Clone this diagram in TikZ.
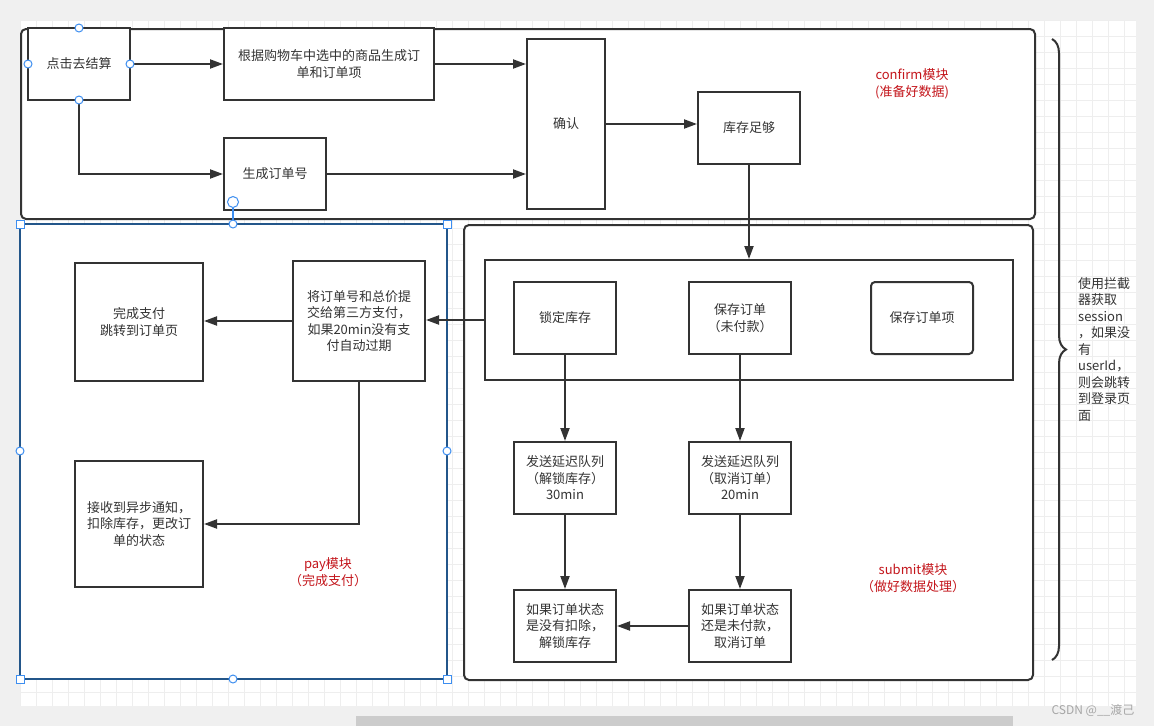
\documentclass[tikz,border=0pt]{standalone}
\usepackage{fontspec}
\setmainfont{Noto Sans CJK SC}
\usetikzlibrary{arrows.meta,decorations.pathreplacing}

\definecolor{linegray}{HTML}{333333}
\definecolor{gridgray}{HTML}{EEEEEE}
\definecolor{bggray}{HTML}{F0F0F0}
\definecolor{labelred}{HTML}{C4161C}
\definecolor{selblue}{HTML}{23568A}
\definecolor{handleblue}{HTML}{3D8EF0}

\tikzset{
    proc/.style = {draw=linegray, line width=2pt, fill=white, text=linegray, align=center,
                   inner sep=0pt, font=\fontsize{13}{16.5}\selectfont},
    rproc/.style = {proc, rounded corners=4pt},
    flow/.style = {draw=linegray, line width=2pt, -{Triangle[length=13pt,width=9pt]}},
    grp/.style = {draw=linegray, fill=white, line width=2pt, rounded corners=5pt},
    modlbl/.style = {text=labelred, align=center, font=\fontsize{13}{16.5}\selectfont},
    handle/.style = {draw=handleblue, fill=white, line width=1pt},
    gridline/.style = {draw=gridgray, line width=1pt},
}

\begin{document}
\begin{tikzpicture}[x=1pt, y=-1pt]
    % Hintergrund und Raster
    \useasboundingbox (0, 0) rectangle (1154, 726);
    \fill[bggray] (0, 0) rectangle (1154, 726);
    \fill[white] (20, 20) rectangle (1136, 706);
    \foreach \gx in {20.5, 36.5, ..., 1136}
        \draw[gridline] (\gx, 20) -- (\gx, 706);
    \foreach \gy in {20.5, 36.5, ..., 706}
        \draw[gridline] (20, \gy) -- (1136, \gy);
    \fill[gray!40] (356, 716) rectangle (1013, 726);

    % Gruppen
    \draw[grp] (21, 29) rectangle (1035, 219);
    \draw[grp] (464, 225) rectangle (1033, 680);
    \draw[selblue, fill=white, line width=1.6pt] (20, 224) rectangle (447, 679);

    % confirm
    \node[proc, minimum width=102, minimum height=72] (settle) at (79, 64) {点击去结算};
    \node[proc, minimum width=210, minimum height=72] (genitems) at (329, 64) {根据购物车中选中的商品生成订\\单和订单项};
    \node[proc, minimum width=102, minimum height=72] (genno) at (275, 174) {生成订单号};
    \node[proc, minimum width=78, minimum height=170] (confirm) at (566, 124) {确认};
    \node[proc, minimum width=102, minimum height=72] (stockok) at (749, 128) {库存足够};
    \node[modlbl] (confirmlbl) at (912, 84) {confirm模块\\(准备好数据)};

    % submit
    \node[proc, minimum width=528, minimum height=120] (saveblock) at (749, 320) {};
    \node[proc, minimum width=102, minimum height=72] (lock) at (565, 318) {锁定库存};
    \node[proc, minimum width=102, minimum height=72] (saveorder) at (740, 318) {保存订单\\（未付款）};
    \node[rproc, minimum width=102, minimum height=72] (saveitem) at (922, 318) {保存订单项};
    \node[proc, minimum width=102, minimum height=72] (delayone) at (565, 478) {发送延迟队列\\（解锁库存）\\30min};
    \node[proc, minimum width=102, minimum height=72] (delaytwo) at (740, 478) {发送延迟队列\\（取消订单）\\20min};
    \node[proc, minimum width=102, minimum height=72] (unlock) at (565, 626) {如果订单状态\\是没有扣除，\\解锁库存};
    \node[proc, minimum width=102, minimum height=72] (cancel) at (740, 626) {如果订单状态\\还是未付款，\\取消订单};
    \node[modlbl] (submitlbl) at (913, 578) {submit模块\\（做好数据处理）};

    % pay
    \node[proc, minimum width=128, minimum height=118] (done) at (139, 322) {完成支付\\跳转到订单页};
    \node[proc, minimum width=132, minimum height=120] (submitpay) at (359, 321) {将订单号和总价提\\交给第三方支付，\\如果20min没有支\\付自动过期};
    \node[proc, minimum width=128, minimum height=126] (notify) at (139, 524) {接收到异步通知，\\扣除库存，更改订\\单的状态};
    \node[modlbl] (paylbl) at (328, 572) {pay模块\\（完成支付）};

    % Pfeile
    \draw[flow] (settle.east) -- (genitems.west);
    \draw[flow] (settle.south) |- (genno.west);
    \draw[flow] (genitems.east) -- (genitems.east -| confirm.west);
    \draw[flow] (genno.east) -- (genno.east -| confirm.west);
    \draw[flow] (confirm.east) -- (confirm.east -| stockok.west);
    \draw[flow] (stockok.south) -- (stockok.south |- saveblock.north);
    \draw[flow] (lock.south) -- (delayone.north);
    \draw[flow] (saveorder.south) -- (delaytwo.north);
    \draw[flow] (delayone.south) -- (unlock.north);
    \draw[flow] (delaytwo.south) -- (cancel.north);
    \draw[flow] (cancel.west) -- (unlock.east);
    \draw[flow] (saveblock.west) -- (saveblock.west -| submitpay.east);
    \draw[flow] (submitpay.west) -- (submitpay.west -| done.east);
    \draw[flow] (submitpay.south) |- (notify.east);

    % Klammer rechts
    \draw[linegray, line width=2pt, decorate, decoration={brace, amplitude=14pt}] (1052, 39) -- (1052, 660);
    \node[anchor=north west, align=left, text=linegray, inner sep=0pt,
          font=\fontsize{13}{16.5}\selectfont] (hint) at (1078, 277)
          {使用拦截\\器获取\\session\\，如果没\\有\\userId，\\则会跳转\\到登录页\\面};

    % Auswahlgriffe
    \draw[handleblue, line width=1.2pt] (233, 208) -- (233, 224);
    \draw[handle] (233, 202) circle (5.5);
    \foreach \hx/\hy in {233/224, 20/451, 447/451, 233/679, 79/28, 28/64, 130/64, 79/100}
        \draw[handle] (\hx, \hy) circle (4);
    \foreach \hx/\hy in {20/224, 447/224, 20/679, 447/679}
        \draw[handle] (\hx-4, \hy-4) rectangle (\hx+4, \hy+4);

    % Wasserzeichen
    \node[text=gray!70, font=\fontsize{12}{14}\selectfont] (mark) at (1093, 710) {CSDN @\_\_渡己};
\end{tikzpicture}
\end{document}
